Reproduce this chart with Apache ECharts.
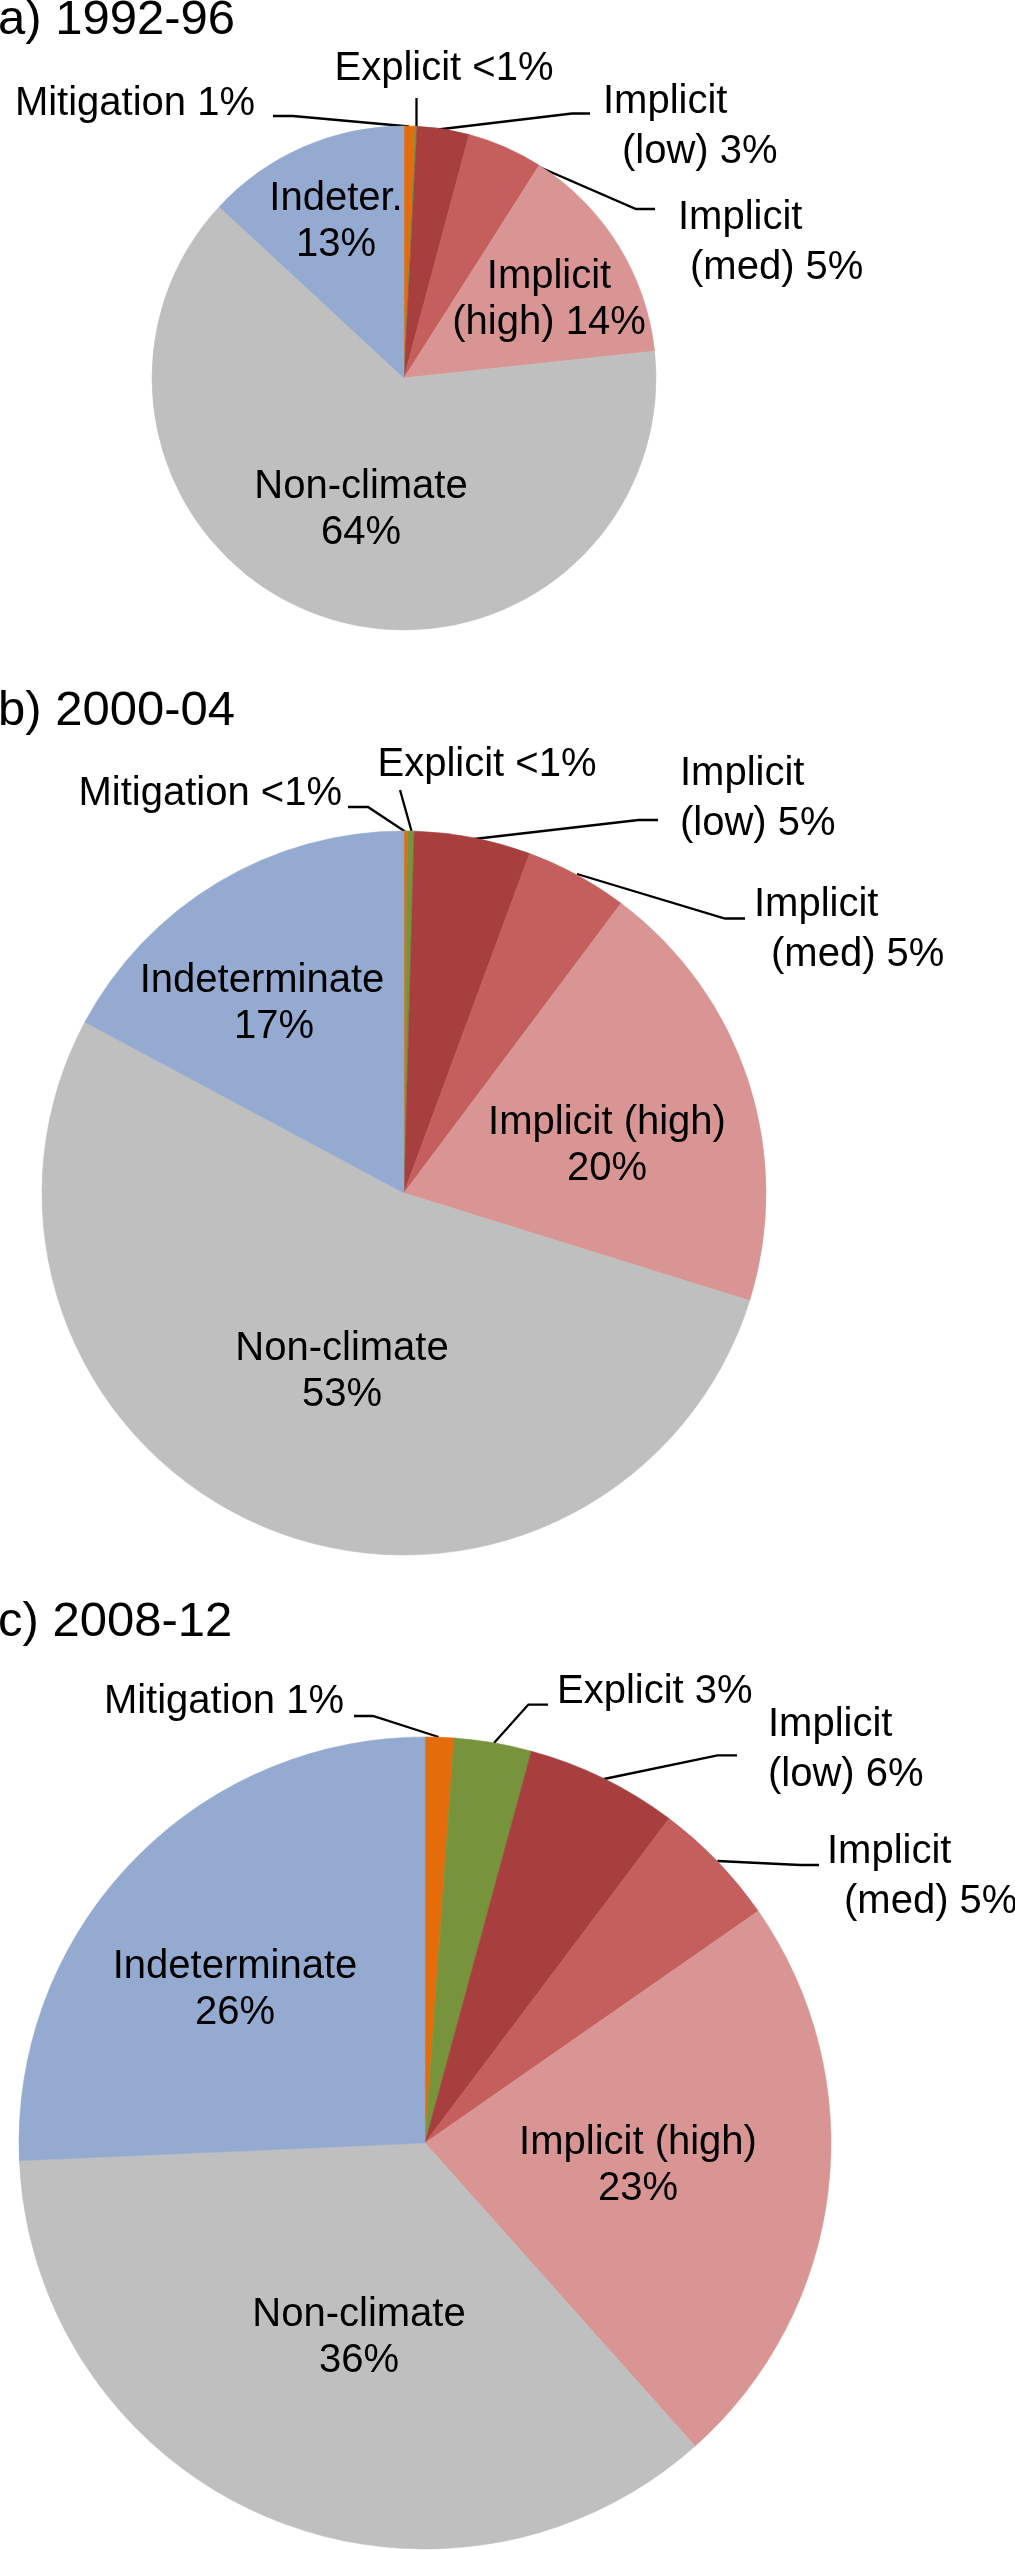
<!DOCTYPE html>
<html>
<head>
<meta charset="utf-8">
<title>Climate content of articles</title>
<script src="https://cdn.jsdelivr.net/npm/echarts@6/dist/echarts.min.js"></script>
<style>
  html, body { margin: 0; padding: 0; background: #fff; }
  #chart { width: 1015px; height: 2550px; }
</style>
</head>
<body>
<div id="chart"></div>
<script>
const categories = ['Mitigation', 'Explicit', 'Implicit (low)', 'Implicit (med)', 'Implicit (high)', 'Non-climate', 'Indeterminate']
const sliceColors = ['#E46C0A', '#77933C', '#A63F3E', '#C45F5D', '#D99594', '#BFBFBF', '#94AAD1']
const panelTitles = ['a) 1992-96', 'b) 2000-04', 'c) 2008-12']

// shares (%)
const shares1992 = [0.7, 0.12, 3.34, 4.85, 14.29, 63.6, 13.1]
const shares2000 = [0.15, 0.3, 5.2, 4.6, 19.6, 53.1, 17.2]
const shares2008 = [1.14, 3.08, 6.05, 5.06, 23.1, 35.9, 25.7]

// label wording, {p} is replaced by the rounded percent
const wording1992 = ['Mitigation {p}', 'Explicit {p}', 'Implicit\n(low) {p}', 'Implicit\n(med) {p}', 'Implicit\n(high) {p}', 'Non-climate\n{p}', 'Indeter.\n{p}']
const wording2000 = ['Mitigation {p}', 'Explicit {p}', 'Implicit\n(low) {p}', 'Implicit\n(med) {p}', 'Implicit (high)\n{p}', 'Non-climate\n{p}', 'Indeterminate\n{p}']
const wording2008 = ['Mitigation {p}', 'Explicit {p}', 'Implicit\n(low) {p}', 'Implicit\n(med) {p}', 'Implicit (high)\n{p}', 'Non-climate\n{p}', 'Indeterminate\n{p}']

const fontFamily = '"Liberation Sans", Arial, Helvetica, sans-serif'

// label placement: at = [x, y (middle of block), align, indent of 2nd line]; leader = polyline or null
const panels = [
  {
    title: panelTitles[0], titleTop: -4, center: [404, 378], radius: 252,
    shares: shares1992, wording: wording1992,
    place: [
      { at: [255, 104, 'right', 0], leader: [[273, 116], [293, 116], [409, 126.5]] },
      { at: [444, 69, 'center', 0], leader: [[416.5, 98], [416.5, 126.5]] },
      { at: [603, 127, 'left', 19], leader: [[438, 129.5], [572, 113.5], [590, 113.5]] },
      { at: [678, 243, 'left', 12], leader: [[491, 146], [636, 209], [655, 209]] },
      { at: [549, 300, 'center', 0], leader: null },
      { at: [361, 510, 'center', 0], leader: null },
      { at: [336, 222, 'center', 0], leader: null }
    ]
  },
  {
    title: panelTitles[1], titleTop: 687, center: [404, 1193], radius: 362,
    shares: shares2000, wording: wording2000,
    place: [
      { at: [342, 794, 'right', 0], leader: [[348, 807], [368, 807], [405, 831.5]] },
      { at: [487, 765, 'center', 0], leader: [[400, 790], [411.5, 831]] },
      { at: [680, 799, 'left', 0], leader: [[474, 839], [638.5, 820], [658, 820]] },
      { at: [754, 930, 'left', 17], leader: [[577, 874], [725, 918.5], [745, 918.5]] },
      { at: [607, 1146, 'center', 0], leader: null },
      { at: [342, 1372, 'center', 0], leader: null },
      { at: [262, 1004, 'center', 24], leader: null }
    ]
  },
  {
    title: panelTitles[2], titleTop: 1598, center: [425, 2143], radius: 406,
    shares: shares2008, wording: wording2008,
    place: [
      { at: [344, 1702, 'right', 0], leader: [[354, 1716], [373, 1716], [438.6, 1737]] },
      { at: [557, 1692, 'left', 0], leader: [[494, 1743], [528.4, 1704.6], [548, 1704.6]] },
      { at: [768, 1750, 'left', 0], leader: [[604, 1779], [717.5, 1755.4], [737, 1755.4]] },
      { at: [827, 1877, 'left', 17], leader: [[717.5, 1861], [800, 1865], [819, 1865]] },
      { at: [638, 2166, 'center', 0], leader: null },
      { at: [359, 2338, 'center', 0], leader: null },
      { at: [235, 1990, 'center', 0], leader: null }
    ]
  }
]

const textStyle = (lineHeight, indent) => ({
  fontSize: 40,
  fontFamily: fontFamily,
  color: '#000',
  lineHeight: lineHeight,
  padding: [0, 0, 0, indent]
})

// rich styles: o = outside label, n = inside label, suffix = indent of line 2
const buildRich = (place) => {
  const rich = {}
  place.forEach(p => {
    const base = p.leader ? 'o' : 'n'
    const lh = p.leader ? 50 : 46
    rich[base] = textStyle(lh, 0)
    if (p.at[3]) rich[base + p.at[3]] = textStyle(lh, p.at[3])
  })
  return rich
}

// Excel style: anything that rounds to 0 shows as <1%
const pctText = (percent) => {
  const r = Math.round(percent)
  return r < 1 ? '<1%' : r + '%'
}

const chart = echarts.init(document.getElementById('chart'), null, { renderer: 'canvas' })

const option = {
  animation: false,
  backgroundColor: '#fff',
  title: panels.map(pn => ({
    text: pn.title,
    left: -2,
    top: pn.titleTop,
    padding: 0,
    textStyle: { fontSize: 49, fontWeight: 'normal', color: '#000', fontFamily: fontFamily }
  })),
  series: panels.map((pn) => ({
    type: 'pie',
    name: pn.title,
    center: pn.center,
    radius: pn.radius,
    startAngle: 90,
    clockwise: true,
    avoidLabelOverlap: false,
    silent: true,
    emphasis: { disabled: true },
    label: {
      show: true,
      position: 'outside',
      overflow: 'none',
      color: '#000',
      fontSize: 40,
      fontFamily: fontFamily,
      textBorderWidth: 0,
      rich: buildRich(pn.place),
      formatter: (params) => {
        const p = pctText(params.percent)
        const place = pn.place[params.dataIndex]
        const base = place.leader ? 'o' : 'n'
        const lines = pn.wording[params.dataIndex].replace('{p}', p).split('\n')
        return lines.map((ln, k) => '{' + (k > 0 && place.at[3] ? base + place.at[3] : base) + '|' + ln + '}').join('\n')
      }
    },
    labelLine: {
      show: true,
      showAbove: true,
      smooth: false,
      lineStyle: { color: '#000', width: 2.3 }
    },
    labelLayout: (params) => {
      const place = pn.place[params.dataIndex]
      const out = { x: place.at[0], y: place.at[1], align: place.at[2], verticalAlign: 'middle' }
      if (place.leader) out.labelLinePoints = place.leader
      return out
    },
    data: pn.shares.map((v, i) => {
      const item = {
        name: categories[i],
        value: v,
        itemStyle: { color: sliceColors[i], borderColor: sliceColors[i], borderWidth: 0.6 }
      }
      if (!pn.place[i].leader) {
        item.label = { position: 'inside' }
        item.labelLine = { show: false }
      }
      return item
    })
  }))
}

chart.setOption(option)
</script>
</body>
</html>
